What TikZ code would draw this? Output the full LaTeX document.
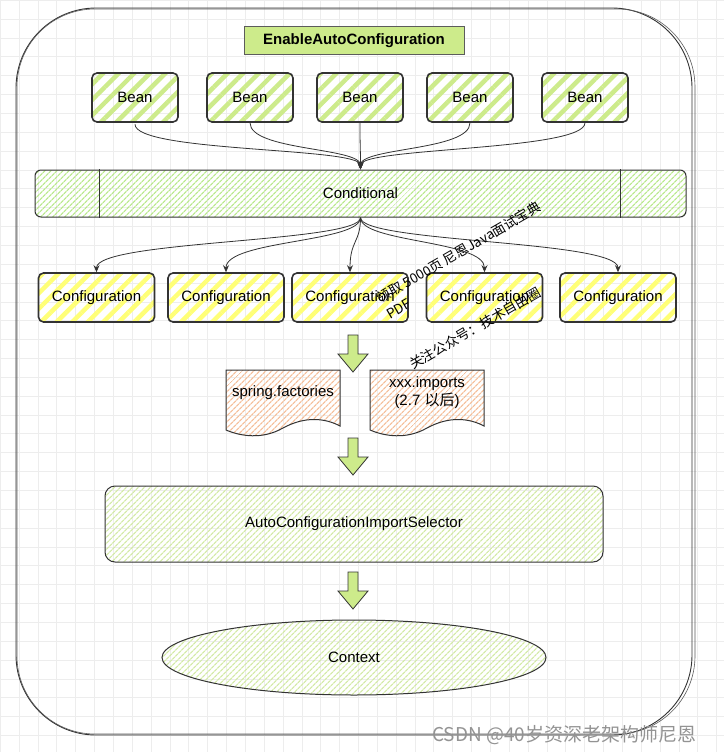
\documentclass[tikz,border=0pt]{standalone}
\usepackage{fontspec}
\setmainfont{Liberation Sans}
\newfontfamily\cjk{Noto Sans CJK SC}
\usetikzlibrary{arrows.meta,patterns.meta,shapes.geometric}

\definecolor{linegray}{HTML}{333333}
\definecolor{beangreen}{HTML}{CDEB8B}
\definecolor{condgreen}{HTML}{B9E98C}
\definecolor{selgreen}{HTML}{D3EAA6}
\definecolor{confyellow}{HTML}{FFFF77}
\definecolor{docorange}{HTML}{F5BF9A}

\tikzset{gridline/.style={very thin, color=gray!14},
         txt/.style={font=\fontsize{15}{18}\selectfont},
         bean/.style={txt, draw=linegray, line width=1.6pt, rounded corners=5pt,
                      minimum width=86pt, minimum height=49pt,
                      pattern={Lines[angle=45,distance=11pt,line width=4.5pt]},
                      pattern color=beangreen},
         confbox/.style={bean, minimum width=116pt, pattern color=confyellow},
         thinfill/.style={txt, draw=linegray, line width=1pt,
                      pattern={Lines[angle=45,distance=4pt,line width=1.3pt]},
                      pattern color=#1},
         conn/.style={draw=linegray, line width=0.8pt,
                      -{Stealth[length=7pt,width=6pt]}},
         blockarrow/.style={draw=linegray, line width=0.8pt, fill=beangreen},
         mark text/.style={font=\cjk\fontsize{13.5}{19}\selectfont, rotate=30,
                      anchor=base west, inner sep=0pt, align=left}}

\newcommand{\blockdown}[2]{%
  \draw[blockarrow] (#1,#2) ++(-5,0) -- ++(10,0) -- ++(0,19) -- ++(10,0)
    -- ++(-15,18) -- ++(-15,-18) -- ++(10,0) -- cycle;}
\newcommand{\docshape}[2]{%
  \draw[thinfill=docorange] (#1,#2) -- ++(114,0) -- ++(0,56)
    .. controls +(-15,-8) and +(22,-12) .. ++(-57,2)
    .. controls +(-21,12) and +(14,6) .. ++(-57,2) -- cycle;}

\begin{document}
\begin{tikzpicture}[x=1pt,y=-1pt]
    \useasboundingbox (0,0) rectangle (724,752);
    \fill[white] (0,0) rectangle (724,752);
    \foreach \g in {0,18.85,...,724} \draw[gridline] (\g,0) -- (\g,752);
    \foreach \g in {0,18.85,...,752} \draw[gridline] (0,\g) -- (724,\g);
    % outer frame, drawn twice for the sketchy look
    \draw[linegray, line width=0.9pt, rounded corners=80pt] (16,8) rectangle (692,735);
    \draw[linegray!80, line width=0.6pt, rounded corners=78pt] (17,9) rectangle (695,734);

    \node[txt, draw=linegray!80, line width=1pt, fill=beangreen, font=\bfseries\fontsize{15}{18}\selectfont,
          minimum width=220pt, minimum height=28pt] (enable) at (354,41) {EnableAutoConfiguration};

    \foreach \x [count=\i] in {135,250,360,470,585}
      \node[bean] (bean\i) at (\x,97.5) {Bean};

    \node[thinfill=condgreen, rounded corners=6pt, minimum width=651pt, minimum height=47pt]
      (cond) at (360.5,193.5) {Conditional};
    \draw[linegray, line width=1pt] ([xshift=65pt]cond.north west) -- ([xshift=65pt]cond.south west);
    \draw[linegray, line width=1pt] ([xshift=-66pt]cond.north east) -- ([xshift=-66pt]cond.south east);

    \foreach \i in {1,...,5}
      \draw[conn] (bean\i.south) .. controls +(0,28) and +(0,-22) .. (cond.north);

    \foreach \x [count=\i] in {96.5,226,350,484.5,618}
      \node[confbox] (conf\i) at (\x,297.5) {Configuration};

    \foreach \i in {1,...,5}
      \draw[conn] (cond.south) .. controls +(0,25) and +(0,-32) .. (conf\i.north);

    \blockdown{353}{335}
    \docshape{226}{370}
    \docshape{370}{370}
    \node[txt] (factories) at (283,393) {spring.factories};
    \node[txt, align=center] (imports) at (427,393) {xxx.imports\\(2.7 {\cjk 以后})};

    \blockdown{353}{438}
    \node[thinfill=selgreen, rounded corners=10pt, minimum width=498pt, minimum height=76pt]
      (selector) at (354,524) {AutoConfigurationImportSelector};

    \blockdown{353}{572}
    \node[thinfill=selgreen, ellipse, minimum width=384pt, minimum height=75pt]
      (context) at (354,657.5) {Context};

    % watermarks
    \node[mark text] (mark1) at (390,320) {领取 5000页 尼恩Java面试宝典\\PDF};
    \node[mark text] (mark2) at (413,370) {关注公众号：技术自由圈};
    \node[font=\cjk\fontsize{19}{21}\selectfont, text=gray!85, anchor=base west, inner sep=0pt]
      (csdn) at (432,741) {CSDN @40岁资深老架构师尼恩};
\end{tikzpicture}
\end{document}
